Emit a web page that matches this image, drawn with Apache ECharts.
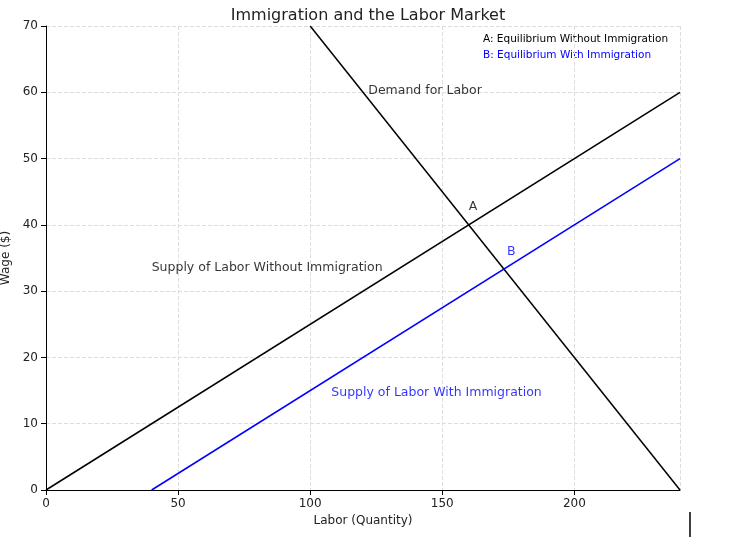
<!DOCTYPE html>
<html><head><meta charset="utf-8">
<script src="https://cdn.jsdelivr.net/npm/echarts@6/dist/echarts.min.js"></script>
<style>html,body{margin:0;padding:0;background:#fff}#c{width:736px;height:541px}</style>
</head><body><div id="c"></div>
<script>
const demand = [[100,70],[240,0]];
const supplyWithout = [[0,0],[240,60]];
const supplyWith = [[40,0],[240,50]];
const labels = [
  {text:'Demand for Labor', pos:[122,60.3], color:'#000'},
  {text:'Supply of Labor Without Immigration', pos:[40,33.5], color:'#000'},
  {text:'Supply of Labor With Immigration', pos:[108,14.7], color:'#0000ff'},
  {text:'A', pos:[160,42.7], color:'#000'},
  {text:'B', pos:[174.5,36], color:'#0000ff'}
];
const notes = [
  {text:'A: Equilibrium Without Immigration', color:'#000'},
  {text:'B: Equilibrium With Immigration', color:'#0000ff'}
];
const font = 'DejaVu Sans';
const chart = echarts.init(document.getElementById('c'));
const lineS = (d,c)=>({type:'line',data:d,symbol:'none',lineStyle:{color:c,width:1.5},silent:true,animation:false});
chart.setOption({
  animation:false,
  textStyle:{fontFamily:font},
  title:{text:'Immigration and the Labor Market',left:363,top:3,textAlign:'center',
    textStyle:{fontFamily:font,fontWeight:'normal',fontSize:16,color:'#222'}},
  grid:{left:46,right:56,top:26,bottom:51,containLabel:false,outerBoundsMode:'none'},
  xAxis:{type:'value',min:0,max:240,interval:50,name:'Labor (Quantity)',nameLocation:'middle',nameGap:22,
    nameTextStyle:{fontFamily:font,fontSize:12,color:'#222'},
    axisLine:{lineStyle:{color:'#000'}},axisTick:{lineStyle:{color:'#000'}},
    axisLabel:{fontFamily:font,fontSize:12,color:'#222',showMaxLabel:false},
    splitLine:{lineStyle:{type:'dashed',color:'#ddd'}}},
  yAxis:{type:'value',min:0,max:70,interval:10,name:'Wage ($)',nameLocation:'middle',nameGap:30,
    nameTextStyle:{fontFamily:font,fontSize:12,color:'#222'},
    axisLine:{show:true,lineStyle:{color:'#000'}},axisTick:{show:true,lineStyle:{color:'#000'}},
    axisLabel:{fontFamily:font,fontSize:12,color:'#222'},
    splitLine:{lineStyle:{type:'dashed',color:'#ddd'}}},
  series:[
    lineS(demand,'#000'),
    lineS(supplyWithout,'#000'),
    lineS(supplyWith,'#0000ff'),
    {type:'scatter',symbolSize:0,silent:true,
      data:labels.map(l=>({value:l.pos,label:{show:true,formatter:l.text,position:'right',distance:0,
        color:l.color,fontFamily:font,fontSize:12.5}}))}
  ],
  graphic:[
    ...notes.map((n,i)=>({type:'text',left:483,top:34+i*16,style:{text:n.text,fill:n.color,font:'10.5px "DejaVu Sans"'}})),
    {type:'line',shape:{x1:690,y1:512,x2:690,y2:537},style:{stroke:'#000',lineWidth:1.5}}
  ]
});
</script></body></html>
